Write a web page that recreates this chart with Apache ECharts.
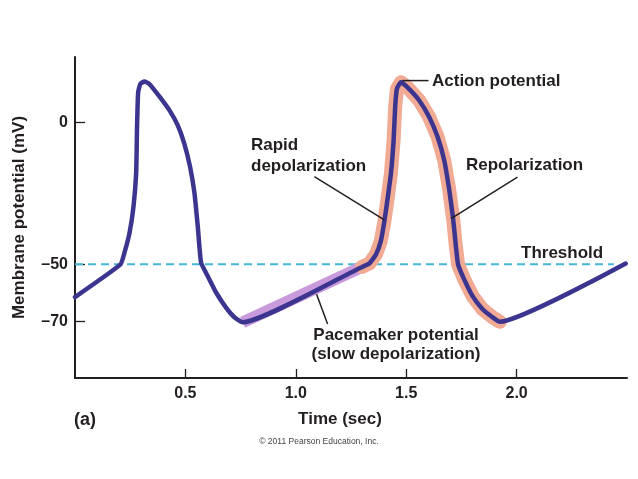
<!DOCTYPE html>
<html>
<head>
<meta charset="utf-8">
<script src="https://cdn.jsdelivr.net/npm/echarts@6/dist/echarts.min.js"></script>
<style>html,body{margin:0;padding:0;background:#fff}#c{width:638px;height:479px}</style>
</head>
<body>
<div id="c"></div>
<script>
// ---- data ----
const times = [0, 0.206, 0.224, 0.247, 0.265, 0.277, 0.281, 0.286, 0.296, 0.314, 0.337, 0.382, 0.428, 0.465, 0.495, 0.521, 0.541, 0.556, 0.571, 0.601, 0.639, 0.684, 0.722, 0.759,
  1.300, 1.333, 1.363, 1.385, 1.400, 1.415, 1.431, 1.443, 1.450, 1.458, 1.476, 1.506, 1.559, 1.604, 1.642, 1.672, 1.695, 1.713, 1.725, 1.735, 1.762, 1.800, 1.845, 1.891, 1.924, 2.494];
const voltages = [-61.5, -50, -45.9, -38.9, -29.6, -17.9, -1.6, 10.6, 13.5, 14.4, 13.5, 9.1, 4.2, -1.0, -7.5, -15.6, -24.9, -36.6, -49.4, -54.1, -59.9, -65.2, -68.6, -70.4,
  -50.9, -49.7, -46.5, -41.8, -35.4, -27.3, -17.9, -6.3, 5.4, 11.8, 14.1, 12.3, 7.7, 1.9, -5.1, -13.3, -23.8, -34.3, -43.6, -50, -55.2, -61.1, -65.7, -68.6, -70.2, -49.7];
const pacemakerRange = [0.75, 1.34];   // highlighted slow depolarization
const actionRange = [1.29, 1.93];      // highlighted action potential
const thresholdTimes = [0, 2.44];
const thresholdValue = -50;
const xTickValues = [0.5, 1.0, 1.5, 2.0];
const yTickValues = [0, -50, -70];

// annotation leader lines, in data coordinates [from, to]
const leaders = [
  [[1.483, 14.7], [1.601, 14.7]],    // Action potential
  [[1.084, -19.1], [1.401, -34.3]],  // Rapid depolarization
  [[2.004, -19.3], [1.703, -33.9]],  // Repolarization
  [[1.094, -60.5], [1.144, -71.0]]   // Pacemaker potential
];

const FONT = '"Liberation Sans", Arial, Helvetica, sans-serif';
const INK = '#231f20';

const curve = times.map((t, i) => [t, voltages[i]]);
const inRange = r => curve.filter(p => p[0] >= r[0] && p[0] <= r[1]);
const threshold = thresholdTimes.map(t => [t, thresholdValue]);
const fmtY = v => v < 0 ? '\u2013' + Math.abs(v) : String(v);

const chart = echarts.init(document.getElementById('c'), null, {renderer: 'canvas'});
chart.setOption({
  animation: false,
  backgroundColor: '#ffffff',
  grid: {left: 75, right: 11, top: 57, bottom: 101, containLabel: false, outerBoundsMode: 'none'},
  xAxis: {
    type: 'value', min: 0, max: 2.5,
    name: 'Time (sec)', nameLocation: 'middle', nameGap: 33,
    nameTextStyle: {fontFamily: FONT, fontWeight: 'bold', fontSize: 17, color: INK, padding: [0, 22, 0, 0]},
    axisLine: {show: true, onZero: false, lineStyle: {color: INK, width: 2}},
    axisTick: {show: true, inside: true, length: 9, lineStyle: {color: INK, width: 1.3}, customValues: xTickValues},
    axisLabel: {show: true, margin: 8, fontFamily: FONT, fontWeight: 'bold', fontSize: 16, color: INK,
      customValues: xTickValues, formatter: v => Number(v).toFixed(1)},
    splitLine: {show: false}
  },
  yAxis: {
    type: 'value', min: -90, max: 23,
    name: 'Membrane potential (mV)', nameLocation: 'middle', nameGap: 47,
    nameTextStyle: {fontFamily: FONT, fontWeight: 'bold', fontSize: 17, color: INK},
    axisLine: {show: true, onZero: false, lineStyle: {color: INK, width: 2}},
    axisTick: {show: true, inside: true, length: 10, lineStyle: {color: INK, width: 1.3}, customValues: yTickValues},
    axisLabel: {show: true, margin: 7, fontFamily: FONT, fontWeight: 'bold', fontSize: 16, color: INK,
      customValues: yTickValues, formatter: fmtY},
    splitLine: {show: false}
  },
  series: [
    {type: 'line', name: 'Threshold', data: threshold, showSymbol: false, z: 1,
      lineStyle: {color: '#45b6d6', width: 2, type: [8, 5]}},
    {type: 'line', name: 'Pacemaker', data: inRange(pacemakerRange), showSymbol: false, z: 2,
      lineStyle: {color: '#c99bdc', width: 12, cap: 'butt', join: 'round'}},
    {type: 'line', name: 'Action', data: inRange(actionRange), showSymbol: false, z: 3,
      lineStyle: {color: '#f1aa93', width: 14, cap: 'round', join: 'round'}},
    {type: 'line', name: 'Membrane potential', data: curve, showSymbol: false, z: 4, smooth: 0.15,
      lineStyle: {color: '#3b3590', width: 4.5, cap: 'round', join: 'round'}}
  ]
});

// annotation graphics
const gfx = [];
leaders.forEach(([a, b]) => {
  const p1 = chart.convertToPixel({gridIndex: 0}, a);
  const p2 = chart.convertToPixel({gridIndex: 0}, b);
  gfx.push({type: 'line', z: 10, shape: {x1: p1[0], y1: p1[1], x2: p2[0], y2: p2[1]},
    style: {stroke: INK, lineWidth: 1.5}});
});
const txt = (text, x, y, opts) => gfx.push(Object.assign({type: 'text', z: 11, x: x, y: y,
  style: Object.assign({text: text, fill: INK, font: 'bold 17px ' + FONT, align: 'left', verticalAlign: 'middle', lineHeight: 21}, opts || {})}));
txt('Action potential', 432, 81);
txt('Rapid\ndepolarization', 251, 156);
txt('Repolarization', 466, 165);
txt('Threshold', 521, 253);
txt('Pacemaker potential\n(slow depolarization)', 396, 345, {align: 'center', lineHeight: 19});
txt('(a)', 74, 420, {font: 'bold 18px ' + FONT});
txt('\u00a9 2011 Pearson Education, Inc.', 319, 442, {align: 'center', font: '8.5px ' + FONT, fill: '#444'});
chart.setOption({graphic: gfx});
</script>
</body>
</html>
